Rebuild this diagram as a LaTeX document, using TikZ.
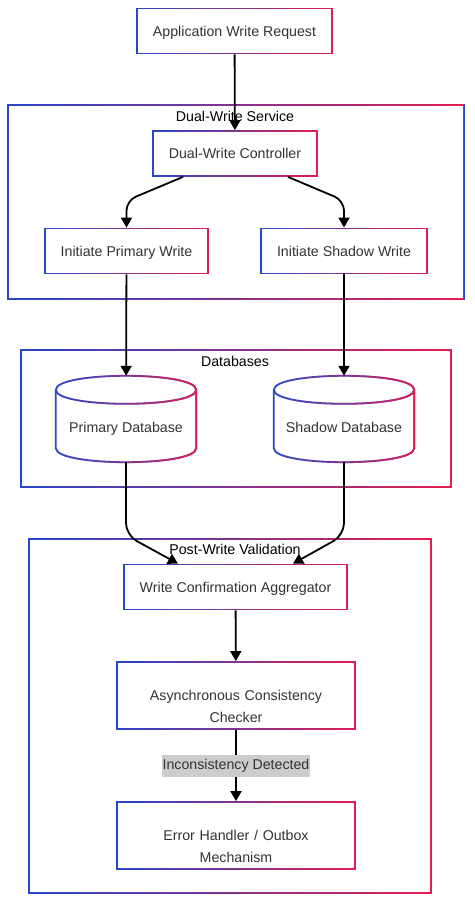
\documentclass[tikz,border=0pt]{standalone}
\usepackage{fontspec}
\setmainfont{Liberation Sans}
\usetikzlibrary{arrows.meta,fadings}
\definecolor{gblue}{RGB}{40,72,204}
\definecolor{gred}{RGB}{226,30,80}
\definecolor{txt}{RGB}{51,51,51}
\tikzfading[name=fadeinright,left color=transparent!100,right color=transparent!0]
\newcommand{\dbnode}[3]{%
	\path #1 node[dbbox] (#2) {};
	\path[grad,fill=white] ([yshift=-14pt]#2.north west) -- ([yshift=14pt]#2.south west)
		.. controls ([yshift=-4.67pt]#2.south west) and ([yshift=-4.67pt]#2.south east) .. ([yshift=14pt]#2.south east)
		-- ([yshift=-14pt]#2.north east)
		.. controls ([yshift=4.67pt]#2.north east) and ([yshift=4.67pt]#2.north west) .. cycle;
	\path[grad] ([yshift=-14pt]#2.north west)
		.. controls ([yshift=-32.67pt]#2.north west) and ([yshift=-32.67pt]#2.north east) .. ([yshift=-14pt]#2.north east);
	\node[dbtext] (#2-t) at (#2.center) {#3};
}
\begin{document}
\begin{tikzpicture}[x=1pt,y=-1pt,
		font=\fontsize{14.2pt}{22pt}\selectfont,
		grad/.style={draw=gblue,line width=1.8pt,postaction={draw=gred,path fading=fadeinright}},
		box/.style={grad,fill=white,inner xsep=16pt,minimum height=45pt,text height=10.2pt,text depth=0pt,text=txt},
		wide/.style={box,text width=206pt,align=center,minimum height=67pt},
		dbbox/.style={minimum width=140pt,minimum height=86pt,inner sep=0pt},
		dbtext/.style={text height=26.2pt,text depth=0pt,inner sep=0pt,text=txt},
		ctitle/.style={text height=10.2pt,text depth=0pt,inner sep=0pt},
		flow/.style={line width=1.8pt,-{Triangle[length=10pt,width=11pt]}},
		elabel/.style={fill=black!20,inner xsep=1pt,inner ysep=4.5pt,text=txt,text height=10.2pt,text depth=2.8pt}]
	\useasboundingbox (0,0) rectangle (474,907);
	\fill[white] (0,0) rectangle (474,907);
	%clusters
	\draw[grad,fill=white] (8,105) rectangle (464,299);
	\draw[grad,fill=white] (21,350) rectangle (451,487);
	\draw[grad,fill=white] (29,539) rectangle (431,893);
	\node[ctitle] (svct) at (235,116) {Dual-Write Service};
	\node[ctitle] (dbst) at (235,361) {Databases};
	\node[ctitle] (valt) at (235,549) {Post-Write Validation};
	%nodes
	\node[box] (app) at (234.5,31) {Application Write Request};
	\node[box] (ctrl) at (235,153.5) {Dual-Write Controller};
	\node[box] (ipw) at (126.5,251) {Initiate Primary Write};
	\node[box] (isw) at (344,251) {Initiate Shadow Write};
	\dbnode{(126,419)}{pdb}{Primary Database}
	\dbnode{(344,419)}{sdb}{Shadow Database}
	\node[box] (agg) at (235.5,587) {Write Confirmation Aggregator};
	\node[wide] (chk) at (236,695.5) {Asynchronous Consistency\\Checker};
	\node[wide] (err) at (236,835.5) {Error Handler / Outbox\\Mechanism};
	%connectors
	\draw[flow] (app) -- (ctrl);
	\draw[flow,rounded corners=10pt] ([xshift=-52pt]ctrl.south) -- ([yshift=27pt]ipw.north) -- (ipw.north);
	\draw[flow,rounded corners=10pt] ([xshift=53pt]ctrl.south) -- ([yshift=27pt]isw.north) -- (isw.north);
	\draw[flow] (ipw) -- (pdb);
	\draw[flow] (isw) -- (sdb);
	\draw[flow,rounded corners=12pt] (pdb.south) -- ([yshift=-73pt]pdb.south) -- ([xshift=-57.5pt]agg.north);
	\draw[flow,rounded corners=12pt] (sdb.south) -- ([yshift=-73pt]sdb.south) -- ([xshift=57.5pt]agg.north);
	\draw[flow] (agg) -- (chk);
	\draw[flow] (chk) -- node[elabel] (incl) {Inconsistency Detected} (err);
\end{tikzpicture}
\end{document}
